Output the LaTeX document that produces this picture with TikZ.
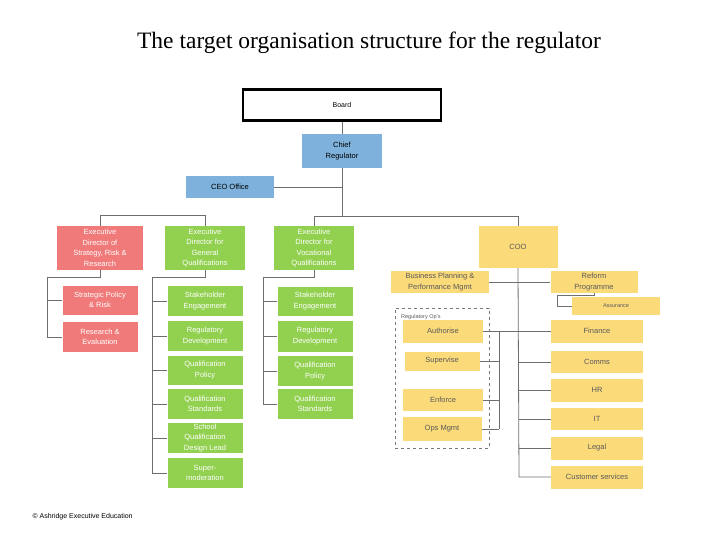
\documentclass[tikz,border=0pt]{standalone}
\usepackage{fontspec}
\setmainfont{Liberation Sans}
\newfontfamily\titlefont{Liberation Serif}
\begin{document}
\begin{tikzpicture}[x=1pt,y=-1pt,
  box/.style={rectangle,inner sep=1pt,align=center,font=\fontsize{7.5}{10.5}\selectfont},
  red/.style={box,fill={rgb,255:red,240;green,122;blue,122},text=white},
  grn/.style={box,fill={rgb,255:red,146;green,208;blue,80},text=white},
  yel/.style={box,fill={rgb,255:red,251;green,218;blue,122},text={rgb,255:red,90;green,90;blue,90}},
  blu/.style={box,fill={rgb,255:red,126;green,178;blue,220},text=black},
  ln/.style={draw={rgb,255:red,110;green,110;blue,110},line width=0.8pt},
  sz/.style 2 args={minimum width=#1pt,minimum height=#2pt}]
\useasboundingbox (0,0) rectangle (720,540);
\node[font=\titlefont\fontsize{23.5}{28}\selectfont] (title) at (369,43) {The target organisation structure for the regulator};
\node[font=\fontsize{7}{8}\selectfont,anchor=west] (foot) at (29,517) {© Ashridge Executive Education};
\node[box,draw=black,line width=2.5pt,sz={198}{31},font=\fontsize{7}{8}\selectfont] (board) at (342,105) {Board};
\node[blu,sz={80}{34}] (chief) at (342,151) {Chief\\Regulator};
\node[blu,sz={88}{22}] (ceo) at (230,187) {CEO Office};
\coordinate (j1) at (342,187);
\coordinate (bus) at (342,216);
\draw[ln] (board) -- (chief) -- (bus);
\draw[ln] (ceo) -- (j1);
% columns
\node[red,sz={86}{44}] (eds) at (100,248) {Executive\\Director of\\Strategy, Risk \&\\Research};
\node[red,sz={75}{29}] (sp) at (100,300) {Strategic Policy\\\& Risk};
\node[red,sz={75}{30}] (re) at (100,337) {Research \&\\Evaluation};
\node[grn,sz={80}{44}] (edg) at (205,248) {Executive\\Director for\\General\\Qualifications};
\node[grn,sz={75}{30}] (g1) at (205,301) {Stakeholder\\Engagement};
\node[grn,sz={75}{30}] (g2) at (205,336) {Regulatory\\Development};
\node[grn,sz={75}{29}] (g3) at (205,370) {Qualification\\Policy};
\node[grn,sz={75}{30}] (g4) at (205,404) {Qualification\\Standards};
\node[grn,sz={75}{30}] (g5) at (205,438) {School\\Qualification\\Design Lead};
\node[grn,sz={75}{30}] (g6) at (205,473) {Super-\\moderation};
\node[grn,sz={80}{44}] (edv) at (314,248) {Executive\\Director for\\Vocational\\Qualifications};
\node[grn,sz={75}{29}] (v1) at (315,301) {Stakeholder\\Engagement};
\node[grn,sz={75}{31}] (v2) at (315,336) {Regulatory\\Development};
\node[grn,sz={75}{30}] (v3) at (315,371) {Qualification\\Policy};
\node[grn,sz={75}{30}] (v4) at (315,404) {Qualification\\Standards};
\node[yel,sz={79}{42}] (coo) at (518,247) {COO};
\draw[ln] (eds.north) -- ++(0,-10) -| (edg.north);
\draw[ln] (bus) -| (edv.north);
\draw[ln] (bus) -| (coo.north);
\draw[ln] (eds.south) -- ++(0,7) -| (47,337) -- (re.west);
\draw[ln] (47,300) -- (sp.west);
\draw[ln] (edg.south) -- ++(0,7) -| (152,473) -- (g6.west);
\foreach \n in {g1,g2,g3,g4,g5} \draw[ln] (\n.west) -- (\n.west -| 152,0);
\draw[ln] (edv.south) -- ++(0,7) -| (263,404) -- (v4.west);
\foreach \n in {v1,v2,v3} \draw[ln] (\n.west) -- (\n.west -| 263,0);
% COO area
\node[yel,sz={98}{22}] (bp) at (440,282) {Business Planning \&\\Performance Mgmt};
\node[yel,sz={87}{22}] (rp) at (594,282) {Reform\\Programme};
\node[yel,sz={88}{18},font=\fontsize{5.5}{6}\selectfont] (as) at (616,306) {Assurance};
\draw[ln] (bp) -- (rp);
\draw[ln] (rp.south) -- ++(0,2) -| (557,306) -- (as.west);
\node[draw={rgb,255:red,120;green,120;blue,120},dashed,line width=0.6pt,minimum width=94pt,minimum height=140pt,inner sep=0pt] (ops) at (442,378) {};
\node[anchor=west,font=\fontsize{5.5}{6}\selectfont,text={rgb,255:red,90;green,90;blue,90},inner sep=0pt] (opsl) at (401,317) {Regulatory Op's};
\node[yel,sz={80}{23}] (au) at (443,331) {Authorise};
\node[yel,sz={75}{19}] (su) at (442,361) {Supervise};
\node[yel,sz={80}{22}] (en) at (443,400) {Enforce};
\node[yel,sz={79}{24}] (om) at (442,429) {Ops Mgmt};
\node[yel,sz={92}{23}] (fi) at (597,331) {Finance};
\node[yel,sz={92}{22}] (co) at (597,362) {Comms};
\node[yel,sz={92}{23}] (hr) at (597,390) {HR};
\node[yel,sz={92}{22}] (it) at (597,419) {IT};
\node[yel,sz={92}{23}] (le) at (597,448) {Legal};
\node[yel,sz={92}{23}] (cs) at (597,477) {Customer services};
\draw[ln] (coo.south) -- (519,477) -- (cs.west);
\foreach \n in {co,hr,it,le} \draw[ln] (\n.west) -- (\n.west -| 519,0);
\draw[ln] (au.east) -- (fi.west);
\draw[ln] (499,331) -- (499,429);
\foreach \n in {su,en,om} \draw[ln] (\n.east) -- (\n.east -| 499,0);
\end{tikzpicture}
\end{document}
